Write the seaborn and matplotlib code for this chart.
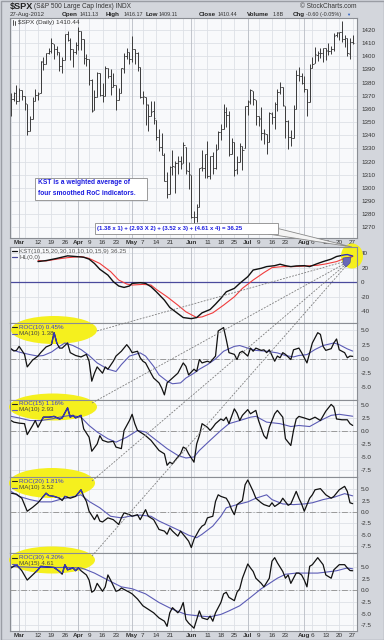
import matplotlib
matplotlib.use("Agg")
import matplotlib.pyplot as plt
from matplotlib.lines import Line2D
from matplotlib.patches import Ellipse, Polygon, Rectangle
from matplotlib.transforms import Affine2D
import seaborn as sns

sns.set_style("white")
plt.rcParams["font.family"] = ["Liberation Sans", "DejaVu Sans"]

# ─────────────────────────────────────────────
# DATA  (trading days 27-Feb-2012 .. 27-Aug-2012, index 0..127)
# ─────────────────────────────────────────────
opens = [1365.2, 1367.6, 1372.2, 1365.9, 1374.1, 1369.6, 1363.6, 1343.4, 1352.6, 1366.0,
         1370.8, 1371.9, 1395.9, 1394.2, 1402.6, 1404.2, 1409.6, 1405.5, 1402.9, 1392.8,
         1397.1, 1416.6, 1412.5, 1405.4, 1403.3, 1408.5, 1419.0, 1413.1, 1398.8, 1397.5,
         1382.2, 1359.0, 1368.8, 1387.6, 1370.3, 1369.6, 1390.8, 1385.1, 1377.0, 1378.5,
         1367.0, 1372.1, 1390.6, 1400.2, 1403.3, 1397.9, 1405.5, 1402.3, 1391.5, 1368.8,
         1369.2, 1363.2, 1354.6, 1358.1, 1351.9, 1338.4, 1330.8, 1324.8, 1305.1, 1295.7,
         1316.1, 1316.0, 1318.7, 1320.8, 1318.9, 1331.3, 1313.1, 1309.9, 1278.3, 1277.8,
         1285.6, 1316.1, 1315.0, 1325.7, 1309.4, 1324.0, 1314.9, 1329.2, 1342.4, 1344.8,
         1358.0, 1355.4, 1325.9, 1334.9, 1314.1, 1320.0, 1331.5, 1330.1, 1362.3, 1365.8,
         1373.7, 1367.1, 1354.7, 1353.0, 1341.4, 1341.3, 1334.8, 1356.5, 1353.7, 1363.6,
         1373.0, 1376.5, 1362.3, 1350.5, 1338.4, 1338.2, 1360.1, 1385.9, 1385.3, 1379.3,
         1375.1, 1365.5, 1391.0, 1394.5, 1401.2, 1402.3, 1402.6, 1405.9, 1404.4, 1404.0,
         1405.6, 1415.8, 1417.9, 1418.1, 1413.1, 1413.5, 1402.0, 1411.1]
highs = [1371.9, 1373.1, 1378.0, 1376.2, 1374.5, 1369.6, 1363.6, 1354.9, 1368.7, 1374.8,
         1373.0, 1396.1, 1399.4, 1402.6, 1405.9, 1414.0, 1409.6, 1407.8, 1402.9, 1399.2,
         1416.6, 1419.2, 1413.7, 1405.4, 1410.9, 1422.4, 1419.0, 1413.1, 1401.6, 1397.5,
         1383.0, 1374.7, 1388.1, 1387.6, 1379.7, 1392.8, 1390.8, 1390.1, 1387.4, 1378.5,
         1375.6, 1391.4, 1402.1, 1406.6, 1403.3, 1415.3, 1405.5, 1403.1, 1391.5, 1373.9,
         1369.2, 1363.7, 1365.9, 1365.7, 1351.9, 1344.9, 1341.8, 1326.4, 1312.2, 1316.4,
         1328.5, 1320.7, 1324.1, 1324.2, 1334.9, 1331.3, 1319.7, 1309.9, 1282.6, 1287.6,
         1315.1, 1329.1, 1325.8, 1335.5, 1324.3, 1327.3, 1333.7, 1343.3, 1348.2, 1363.5,
         1361.6, 1358.3, 1337.8, 1334.9, 1324.2, 1334.4, 1331.5, 1362.2, 1366.4, 1374.8,
         1373.9, 1367.1, 1354.9, 1361.5, 1345.0, 1341.3, 1357.7, 1357.3, 1365.4, 1375.3,
         1380.4, 1376.5, 1362.3, 1351.5, 1344.0, 1363.1, 1389.2, 1391.7, 1387.2, 1385.0,
         1375.1, 1394.2, 1399.6, 1407.1, 1404.1, 1406.0, 1406.0, 1405.9, 1410.0, 1407.7,
         1417.4, 1418.7, 1418.1, 1426.7, 1416.1, 1413.5, 1413.5, 1416.2]
lows = [1354.9, 1366.0, 1363.8, 1365.9, 1366.4, 1359.1, 1340.0, 1343.4, 1352.6, 1365.9,
        1366.7, 1371.9, 1389.7, 1394.2, 1401.5, 1402.4, 1397.7, 1400.6, 1388.7, 1386.9,
        1397.1, 1411.9, 1397.2, 1391.6, 1401.4, 1404.5, 1404.6, 1394.1, 1392.9, 1378.2,
        1357.4, 1359.0, 1368.8, 1369.9, 1365.4, 1369.6, 1383.3, 1370.3, 1377.0, 1358.8,
        1366.8, 1372.1, 1387.3, 1397.8, 1394.0, 1395.7, 1393.9, 1388.7, 1368.0, 1363.9,
        1347.8, 1343.1, 1354.6, 1348.9, 1336.6, 1328.4, 1324.8, 1304.9, 1292.0, 1295.7,
        1310.0, 1296.5, 1310.5, 1314.2, 1318.9, 1310.8, 1298.9, 1277.3, 1266.7, 1274.2,
        1285.6, 1312.7, 1307.8, 1307.7, 1306.6, 1310.5, 1314.1, 1329.2, 1336.4, 1344.8,
        1346.5, 1324.4, 1325.9, 1309.3, 1310.3, 1320.0, 1313.3, 1330.1, 1355.7, 1363.5,
        1363.0, 1348.0, 1346.7, 1336.3, 1333.2, 1325.4, 1334.8, 1348.5, 1345.1, 1358.6,
        1371.2, 1362.2, 1337.6, 1329.2, 1331.5, 1338.2, 1360.1, 1381.4, 1379.2, 1373.1,
        1354.7, 1365.5, 1391.0, 1394.5, 1396.6, 1398.8, 1395.6, 1397.3, 1400.6, 1401.6,
        1404.2, 1414.7, 1412.1, 1410.9, 1406.8, 1400.5, 1398.0, 1409.1]
closes = [1367.6, 1372.2, 1366.0, 1374.1, 1369.6, 1364.3, 1343.4, 1352.6, 1365.9, 1370.9,
          1371.1, 1396.0, 1394.3, 1402.6, 1404.2, 1409.8, 1405.5, 1402.9, 1392.8, 1397.1,
          1416.5, 1412.5, 1405.5, 1403.3, 1408.5, 1419.0, 1413.4, 1399.0, 1398.1, 1382.2,
          1358.6, 1368.7, 1387.6, 1370.3, 1369.6, 1390.8, 1385.1, 1376.9, 1378.5, 1366.9,
          1372.0, 1390.7, 1400.0, 1403.4, 1397.9, 1405.8, 1402.3, 1391.6, 1369.1, 1369.6,
          1363.7, 1354.6, 1358.0, 1353.4, 1338.4, 1330.7, 1324.8, 1304.9, 1295.2, 1316.0,
          1316.6, 1318.9, 1320.7, 1317.8, 1332.4, 1313.3, 1310.3, 1278.0, 1278.2, 1285.5,
          1315.1, 1315.0, 1325.7, 1308.9, 1324.2, 1314.9, 1329.1, 1342.8, 1344.8, 1358.0,
          1355.7, 1325.5, 1335.0, 1313.7, 1320.0, 1331.9, 1329.0, 1362.2, 1365.5, 1374.0,
          1367.6, 1354.7, 1352.5, 1341.5, 1341.5, 1334.8, 1356.8, 1353.6, 1363.7, 1372.8,
          1376.5, 1362.7, 1350.5, 1338.3, 1337.9, 1360.0, 1386.0, 1385.3, 1379.3, 1375.3,
          1365.0, 1391.0, 1394.2, 1401.4, 1402.2, 1402.8, 1405.9, 1404.1, 1403.9, 1405.5,
          1415.5, 1418.2, 1418.1, 1413.2, 1413.5, 1402.1, 1411.1, 1410.4]

# KST and its signal line
kst_idx = [10, 13, 17, 21, 24, 27, 29, 31, 33, 36, 38, 40, 42, 44, 45, 48, 50, 52, 54, 57,
           59, 62, 64, 67, 69, 71, 74, 76, 78, 80, 83, 85, 88, 90, 93, 95, 98, 100, 102, 104,
           106, 109, 111, 114, 116, 119, 121, 124, 125, 127]
kst_val = [28.6, 30, 33, 36.5, 35.6, 34.6, 32, 26, 18, 10, 1, -5, -7, -5, -1.4, -0.5, -1.4, -6, -13, -24.5,
           -34.6, -43, -48.5, -50, -48.5, -42, -37.4, -30, -22, -13, -8.3, -1.4, 7.8, 17, 19.4, 21.7, 23, 25, 23, 21.7,
           22.6, 23, 21.7, 26, 28.6, 32, 35.6, 37.9, 38.3, 36.25]
sig_idx = [10, 13, 17, 21, 26, 29, 33, 37, 40, 43, 45, 49, 52, 54, 58, 62, 65, 69, 71, 75,
           79, 83, 86, 90, 94, 97, 101, 105, 110, 114, 117, 121, 124, 127]
sig_val = [30, 29.5, 32, 34, 35.6, 33, 26, 14.8, 3.2, -2.3, -3.7, -2.8, -3.7, -9.7, -19.9, -31.4, -40.6, -48.5, -47.6, -42,
           -31.4, -19.9, -8.3, 3.2, 13.4, 20.3, 21.7, 21.7, 22.6, 23.6, 25.4, 28.6, 33, 35.6]

# ROC(10) and MA(10)
roc10_idx = [0, 1, 2, 3, 5, 6, 8, 10, 11, 13, 15, 16, 17, 18, 19, 21, 22, 24, 26, 28,
             29, 30, 31, 32, 34, 35, 36, 38, 39, 41, 43, 44, 45, 47, 48, 49, 50, 52, 53, 55,
             56, 57, 58, 60, 62, 64, 65, 66, 68, 69, 70, 71, 73, 74, 76, 77, 79, 80, 81, 83,
             84, 85, 86, 88, 89, 90, 91, 93, 94, 95, 96, 98, 99, 100, 101, 102, 104, 105, 107, 108,
             109, 110, 112, 114, 115, 116, 117, 119, 120, 121, 122, 124, 125, 126, 127]
roc10_val = [1.8, 1.4, 1.5, 2.2, 0.8, -1.4, -0.2, 0.5, 1.1, 2.1, 2.5, 4.6, 2.8, 1.9, 1.9, 2.8, 1.1, 0.6, 0.35, 0.8,
             -0.4, -3.9, -2.5, -1.4, -2.5, -1.4, -1.8, -0.4, 0.5, 1.35, 2.5, 1.9, 1.1, 1.35, 0.2, -0.4, -0.7, -2.5, -3.35, -4.2,
             -5.1, -6.3, -4.2, -3.35, -2.5, -0.7, -1.3, -2.8, -1.8, -2.2, -0.1, -0.7, -0.4, -0.6, 0.5, 4.9, 5.5, 3.4, 1.1, 0.8,
             -0.1, 1.1, 1.35, 0.5, 1.9, 1.35, 1.9, 1.5, 1.6, 1.1, 1.6, -0.4, 0.5, 0.2, 1.1, 0.8, -0.1, 1.6, 1.9, 1.1,
             0.2, -0.7, 2.8, 4.6, 4.3, 2.2, 1.5, 1.8, 2.8, 3.5, 1.6, 1.1, 0.2, 0.5, 0.45]
ma10_idx = [0, 3, 7, 10, 12, 15, 18, 20, 23, 26, 29, 32, 36, 39, 41, 44, 48, 50, 53, 55,
            58, 60, 63, 65, 68, 70, 73, 76, 79, 83, 85, 88, 91, 95, 99, 102, 105, 107, 110, 113,
            116, 120, 122, 125, 127]
ma10_val = [1.65, 1.2, 0.76, 0.5, 0.6, 1.2, 2.2, 2.8, 2.35, 1.65, 0.6, -0.7, -1.8, -2.2, -1.0, 0.5, 1.06, 0.5, -1.3, -2.8,
            -3.9, -4.35, -4.2, -3.35, -2.5, -1.8, -1.0, 0.0, 1.35, 2.2, 2.35, 1.9, 1.5, 1.35, 1.06, 0.6, 0.35, 0.6, 0.76, 1.65,
            2.35, 2.8, 2.5, 1.76, 1.38]

# ROC(15) and MA(10)
roc15_idx = [0, 1, 3, 5, 6, 8, 9, 10, 12, 14, 16, 18, 19, 21, 22, 23, 24, 26, 27, 29,
             30, 32, 33, 34, 36, 38, 39, 41, 42, 44, 45, 46, 47, 49, 50, 52, 54, 55, 57, 58,
             59, 60, 62, 63, 64, 65, 66, 68, 69, 70, 71, 73, 74, 75, 76, 78, 79, 80, 81, 83,
             84, 85, 86, 88, 89, 91, 92, 94, 95, 96, 98, 99, 100, 101, 102, 104, 105, 106, 107, 109,
             111, 113, 115, 117, 119, 120, 121, 123, 125, 126, 127]
roc15_val = [2.1, 1.8, 1.6, 1.5, -0.6, 1.15, 2.1, 0.8, 2.75, 2.75, 2.9, 2.4, 2.6, 4.55, 2.75, 3.1, 2.6, 3.1, 0.5, -1.1,
             -3.8, -2.4, -0.8, -1.7, -2.05, -1.9, -3.0, -3.3, 0.2, 2.1, 3.3, 1.5, 0.2, -0.45, -0.8, -1.7, -3.0, -3.65, -4.3, -6.5,
             -5.9, -6.2, -4.9, -4.3, -3.0, -3.3, -4.3, -5.9, -2.4, -0.8, 1.5, 0.8, 0.2, 0.8, 1.5, 2.4, 2.1, 2.75, 1.5, 4.35,
             3.5, 2.1, 3.1, 4.2, 3.4, 4.05, 2.1, -0.8, -1.4, 0.8, 3.4, 4.05, 3.4, 2.75, -1.4, -2.7, 0.2, 2.4, 2.9, 2.6,
             2.25, 2.75, 2.1, 3.9, 5.2, 4.7, 2.4, 2.25, 2.25, 1.5, 1.16]
ma15_idx = [0, 3, 7, 11, 15, 18, 22, 26, 29, 32, 36, 39, 43, 47, 50, 54, 58, 62, 65, 68,
            70, 74, 78, 81, 85, 89, 91, 95, 100, 104, 107, 111, 115, 119, 122, 127]
ma15_val = [2.9, 2.6, 2.1, 2.1, 2.4, 2.75, 3.1, 2.75, 1.15, -0.1, -1.4, -2.05, -1.1, 0.2, -0.1, -1.7, -3.3, -4.6, -5.1, -4.9,
            -3.65, -1.7, 0.2, 1.5, 2.1, 2.75, 2.9, 1.8, 1.5, 0.95, 1.15, 0.95, 2.1, 3.1, 3.3, 2.93]

# ROC(20) and MA(10)
roc20_idx = [0, 2, 4, 6, 8, 10, 11, 13, 14, 16, 18, 19, 20, 22, 24, 26, 27, 28, 29, 31,
             32, 33, 34, 36, 38, 40, 41, 42, 44, 45, 47, 48, 50, 51, 53, 54, 55, 57, 58, 59,
             60, 62, 63, 65, 66, 67, 68, 70, 71, 72, 73, 75, 76, 77, 78, 80, 81, 82, 83, 84,
             86, 87, 88, 90, 91, 93, 94, 96, 97, 98, 100, 101, 103, 104, 106, 107, 108, 109, 111, 112,
             113, 115, 117, 119, 120, 122, 124, 125, 126, 127]
roc20_val = [4.1, 3.9, 3.0, 0.15, 1.0, 2.0, 2.7, 4.1, 3.6, 3.4, 3.0, 2.5, 3.4, 3.0, 3.4, 4.85, 3.4, 2.3, 0.15, -1.7,
             -0.6, -2.0, -2.2, -1.3, -1.7, -2.75, -1.3, -0.2, -0.6, -0.95, -0.6, -1.7, 0.5, -0.95, -1.7, -2.75, -3.85, -4.2, -4.9, -3.5,
             -4.2, -5.3, -4.2, -5.65, -6.4, -7.8, -6.0, -3.85, -3.1, -2.75, -1.3, -0.95, 2.3, 3.75, 3.4, 3.0, 2.0, 0.5, -0.6, 1.6,
             2.5, 5.95, 7.0, 4.5, 3.0, 2.0, 1.6, 1.2, 2.0, 1.2, 2.0, 3.0, 1.45, 1.75, 4.5, 3.0, 1.75, 0.15, 3.0, 3.75,
             4.85, 5.1, 3.75, 3.0, 3.4, 4.85, 5.6, 4.5, 2.0, 1.81]
ma20_idx = [0, 3, 7, 11, 15, 18, 22, 26, 29, 33, 37, 41, 44, 48, 52, 55, 59, 63, 66, 69,
            71, 75, 78, 80, 84, 88, 91, 95, 97, 101, 105, 109, 112, 116, 120, 124, 127]
ma20_val = [4.5, 3.4, 2.7, 2.2, 2.2, 2.7, 3.2, 3.75, 2.3, 0.9, -0.95, -1.3, -0.95, -0.7, -0.95, -2.0, -3.1, -4.2, -5.1, -5.65,
            -4.9, -3.1, -0.95, 0.9, 1.6, 2.2, 3.0, 3.75, 2.7, 1.75, 1.6, 1.75, 2.0, 2.7, 3.2, 4.0, 3.52]

# ROC(30) and MA(15)
roc30_idx = [0, 2, 4, 6, 8, 10, 11, 16, 18, 19, 20, 21, 23, 24, 25, 26, 28, 29, 30, 31,
             32, 34, 35, 36, 37, 39, 40, 41, 42, 44, 45, 47, 49, 51, 53, 55, 57, 58, 59, 60,
             62, 63, 64, 65, 66, 68, 69, 70, 71, 73, 74, 75, 76, 78, 79, 80, 81, 83, 84, 85,
             86, 88, 89, 90, 91, 93, 94, 96, 97, 98, 99, 101, 102, 103, 104, 106, 107, 108, 109, 110,
             111, 112, 114, 115, 116, 117, 119, 120, 122, 124, 125, 126, 127]
roc30_val = [4.8, 5.5, 4.2, 2.2, 3.3, 4.4, 5.15, 4.9, 4.05, 3.45, 5.5, 4.4, 4.8, 4.2, 4.8, 4.2, 3.3, 2.2, -0.4, 0.0,
             1.5, -0.2, 0.75, 3.3, 2.2, -0.2, 0.0, 0.5, 0.2, -0.4, -0.75, -1.85, -3.3, -4.05, -4.8, -5.9, -6.6, -7.7, -4.8, -3.7,
             -4.8, -4.05, -2.6, -6.25, -7.0, -8.1, -6.25, -4.4, -5.9, -6.25, -5.5, -6.6, -4.8, -2.6, -0.75, -0.4, -1.5, -2.2, -0.4, 0.35,
             2.6, 5.65, 4.8, 4.05, 2.6, 1.5, 0.75, 2.6, 6.25, 7.0, 5.9, 4.05, 2.6, 3.3, 1.5, 3.7, 3.7, 3.3, 2.2, 0.75,
             5.15, 5.5, 7.0, 6.25, 5.5, 3.3, 2.6, 4.4, 5.5, 5.5, 4.8, 4.25, 4.2]
ma30_idx = [0, 5, 10, 15, 21, 26, 28, 31, 36, 41, 45, 50, 55, 60, 65, 70, 74, 78, 81, 85,
            89, 93, 95, 99, 102, 106, 110, 114, 117, 121, 125, 127]
ma30_val = [5.1, 5.0, 4.9, 4.9, 4.9, 4.8, 4.4, 3.7, 2.2, 0.75, 0.35, -0.75, -2.6, -4.05, -5.15, -5.5, -5.65, -5.15, -4.4, -3.3,
            -1.5, 0.35, 1.1, 2.6, 3.45, 3.7, 3.7, 3.7, 3.9, 4.2, 4.8, 4.61]

# date axis
label_pos = [3, 10, 15, 20, 25, 29, 34, 39, 45, 49, 54, 59, 67, 73, 78, 83, 88, 92, 97, 102,
             109, 112, 117, 122, 127]
label_txt = ["Mar", "12", "19", "26", "Apr", "9", "16", "23", "May", "7", "14", "21", "Jun", "11", "18", "25",
             "Jul", "9", "16", "23", "Aug", "6", "13", "20", "27"]
mondays = [0, 5, 10, 15, 20, 25, 29, 34, 39, 44, 49, 54, 59, 64, 68, 73, 78, 83, 88, 92,
           97, 102, 107, 112, 117, 122, 127]
month_starts = [3, 25, 45, 67, 88, 109]
MONTHS = {"Mar", "Apr", "May", "Jun", "Jul", "Aug"}

# ─────────────────────────────────────────────
# STYLE / LAYOUT  (pixel units on a 384x640 canvas)
# ─────────────────────────────────────────────
W, H = 384, 640
BG = "#d3d6dc"
FACE = "#f8f9fb"
GRID = "#dde0e6"
GRID_M = "#b9bdc5"
EDGE = "#8a8d93"
TXT = "#333333"
BLUE_T = "#1c1ce0"
YEL = "#f5f01e"
MA_C = "#5b5bb5"
X0, X1 = 10, 357
XMIN, XMAX = -0.4, 128.6

fig = plt.figure(figsize=(W / 100, H / 100), dpi=100, facecolor=BG)
pix = Affine2D().scale(1 / W, -1 / H).translate(0, 1) + fig.transFigure


def panel(top, bottom, yticks, ylabels):
    ax = fig.add_axes([X0 / W, 1 - bottom / H, (X1 - X0) / W, (bottom - top) / H])
    ax.set_facecolor(FACE)
    for m in mondays:
        ax.axvline(m, color=GRID, lw=0.6, zorder=0.5)
    for m in month_starts:
        ax.axvline(m, color=GRID_M, lw=0.6, zorder=0.6)
    for t in yticks:
        ax.axhline(t, color=GRID, lw=0.6, zorder=0.5)
    ax.yaxis.tick_right()
    ax.set_yticks(yticks)
    ax.set_yticklabels(ylabels)
    ax.tick_params(axis="y", length=0, pad=3, labelsize=4.5, labelcolor=TXT)
    ax.set_xticks([])
    for s in ax.spines.values():
        s.set_color(EDGE)
        s.set_linewidth(0.8)
    return ax


def date_labels(ax, pad):
    ax.set_xticks(label_pos)
    ax.set_xticklabels(label_txt)
    ax.tick_params(axis="x", length=0, labelbottom=True, pad=pad, labelsize=4.6, labelcolor=TXT)
    for t in ax.get_xticklabels():
        if t.get_text() in MONTHS:
            t.set_fontweight("bold")


def draw(ax, xs, ys, color, lw, z=2.0):
    sns.lineplot(x=xs, y=ys, ax=ax, color=color, linewidth=lw, zorder=z, estimator=None)
    ax.set_xlabel("")
    ax.set_ylabel("")
    return ax.lines[-1]


def ftext(x, y, s, **kw):
    kw.setdefault("va", "center")
    kw.setdefault("color", TXT)
    fig.text(x / W, 1 - y / H, s, **kw)


def fline(xs, ys, **kw):
    fig.add_artist(Line2D(xs, ys, transform=pix, **kw))


# ── price panel ──────────────────────────────
main = panel(18, 238, list(range(1270, 1421, 10)), [str(v) for v in range(1270, 1421, 10)])
idx = list(range(len(closes)))
main.vlines(idx, lows, highs, color="#3a3a3a", lw=0.7, zorder=2)
main.hlines(opens, [i - 0.5 for i in idx], idx, color="#3a3a3a", lw=0.6, zorder=2)
main.hlines(closes, idx, [i + 0.5 for i in idx], color="#3a3a3a", lw=0.6, zorder=2)
main.set_ylim(1262, 1429)
date_labels(main, 1.2)

# ── KST panel ────────────────────────────────
kst = panel(247, 323, [40, 20, 0, -20, -40], ["40", "20", "0", "-20", "-40"])
kst.axhline(0, color="#4a4a9c", lw=0.9, zorder=1)
draw(kst, sig_idx, sig_val, "#f03c3c", 0.8)
draw(kst, kst_idx, kst_val, "#111111", 1.0, 2.2)
circ = Ellipse((352, 256), 22, 25, transform=pix, facecolor=YEL, edgecolor="none",
               zorder=2.5, clip_on=False)
kst.add_patch(circ)
draw(kst, sig_idx, sig_val, "#f03c3c", 0.8, 2.6).set_clip_path(circ)
draw(kst, kst_idx, kst_val, "#3030c0", 1.0, 2.7).set_clip_path(circ)
kst.set_ylim(-56, 48.7)

# ── ROC panels ───────────────────────────────
roc_layout = [
    # top, bottom, ylim, yticks, ellipse (cx, cy, w, h), legend y
    (323, 400, (-7.2, 6.3), [5, 2.5, 0, -2.5, -5], (54, 330, 86, 28), 327),
    (400, 477, (-8.75, 6.05), [5, 2.5, 0, -2.5, -5, -7.5], (53, 407, 88, 27), 403.5),
    (477, 553, (-9.0, 7.65), [5, 2.5, 0, -2.5, -5, -7.5], (52, 483, 86, 30), 481),
    (553, 631, (-8.7, 8.0), [5, 2.5, 0, -2.5, -5, -7.5], (52, 560, 86, 27), 557.5),
]
roc_series = [
    (roc10_idx, roc10_val, ma10_idx, ma10_val, "ROC(10) 0.45%", "MA(10) 1.38"),
    (roc15_idx, roc15_val, ma15_idx, ma15_val, "ROC(15) 1.16%", "MA(10) 2.93"),
    (roc20_idx, roc20_val, ma20_idx, ma20_val, "ROC(20) 1.81%", "MA(10) 3.52"),
    (roc30_idx, roc30_val, ma30_idx, ma30_val, "ROC(30) 4.20%", "MA(15) 4.61"),
]
roc_axes = []
for (top, bot, ylim, ticks, ell, ly), (rx, ry, mx, my, rlab, mlab) in zip(roc_layout, roc_series):
    ax = panel(top, bot, ticks, [f"{t:.1f}" for t in ticks])
    ax.axhline(0, color="#9a9a9a", lw=0.7, ls=(0, (6, 2, 1, 2)), zorder=1)
    e = Ellipse(ell[:2], ell[2], ell[3], transform=pix, facecolor=YEL, edgecolor="none",
                zorder=1.5, clip_on=False)
    ax.add_patch(e)
    draw(ax, mx, my, MA_C, 0.8, 2.0)
    draw(ax, rx, ry, "#111111", 0.9, 2.2)
    draw(ax, rx, ry, "#3434c8", 0.9, 2.3).set_clip_path(e)
    ax.set_ylim(*ylim)
    roc_axes.append(ax)
    # legend
    fline([12, 17], [ly, ly], color="#222222", lw=0.8, zorder=5)
    ftext(19, ly, rlab, color="#3a3ad0", fontsize=4.5, zorder=5)
    fline([12, 17], [ly + 6.5, ly + 6.5], color=MA_C, lw=0.8, zorder=5)
    ftext(19, ly + 6.5, mlab, color="#444444", fontsize=4.5, zorder=5)

date_labels(roc_axes[-1], 1.6)

for ax in [main, kst] + roc_axes:
    ax.set_xlim(XMIN, XMAX)

# ─────────────────────────────────────────────
# HEADER, LEGENDS, ANNOTATIONS
# ─────────────────────────────────────────────
ftext(10, 6.5, r"\$SPX", fontsize=6.6, fontweight="bold", color="#222222")
ftext(33.5, 6.5, "(S&P 500 Large Cap Index) INDX", fontsize=4.7)
ftext(357, 6.5, "© StockCharts.com", fontsize=4.7, ha="right")
ftext(10, 14.8, "27-Aug-2012", fontsize=4.3)
header = [(62, "Open", True), (80, "1411.13", False), (106, "High", True), (124, "1416.17", False),
          (146, "Low", True), (159, "1409.11", False), (199, "Close", True), (218, "1410.44", False),
          (247, "Volume", True), (273, "1.8B", False), (293, "Chg", True), (306, "-0.60 (-0.05%)", False)]
for x, s, b in header:
    ftext(x, 14.8, s, fontsize=4.5 if b else 3.9, fontweight="bold" if b else "normal",
          color="#222222" if b else TXT)
ftext(346, 15.2, "▼", fontsize=3.0, color="#2c5fc0")

# price legend
fline([12.5, 12.5], [20, 24.5], color="#333333", lw=0.6, zorder=5)
fline([15, 15], [20.5, 25], color="#333333", lw=0.6, zorder=5)
ftext(18, 22.5, r"\$SPX (Daily) 1410.44", fontsize=4.6)

# KST legend
fline([12, 17], [251, 251], color="#111111", lw=0.9, zorder=5)
ftext(19, 251, "KST(10,15,20,30,10,10,10,15,9) 36.25", fontsize=4.5, color="#555555")
fline([12, 17], [257, 257], color="#4a4a9c", lw=0.9, zorder=5)
ftext(19, 257, "HL(0,0)", fontsize=4.5, color="#555555")

# explanatory boxes
fig.add_artist(Rectangle((35, 178), 112, 22, transform=pix, facecolor="white",
                         edgecolor="#8a8a8a", lw=0.6, zorder=3))
ftext(38, 183, "KST is a weighted average of", fontsize=4.8, fontweight="bold",
      color=BLUE_T, zorder=4)
ftext(38, 193.5, "four smoothed RoC indicators.", fontsize=4.8, fontweight="bold",
      color=BLUE_T, zorder=4)

fig.add_artist(Polygon([(268, 234), (278, 228.5), (352, 247)], closed=True, transform=pix,
                       facecolor="#f4f4f4", edgecolor="#8a8a8a", lw=0.6, zorder=3))
fig.add_artist(Rectangle((95, 223), 183, 11, transform=pix, facecolor="white",
                         edgecolor="#8a8a8a", lw=0.6, zorder=3.1))
ftext(97, 228.7, "(1.38 x 1) + (2.93 X 2) + (3.52 x 3) + (4.61 x 4) = 36.25", fontsize=4.35,
      fontweight="bold", color=BLUE_T, zorder=4)

# dashed leaders from each RoC legend to the KST value
for (sx, sy), (tx, ty) in [((97, 331), (343, 262)), ((92, 403), (344, 264)),
                           ((92, 481), (345, 265)), ((92, 556), (346, 266))]:
    fline([sx, tx], [sy, ty], color="#7c7c7c", lw=0.6, ls=(0, (2.2, 1.6)), zorder=2)
fig.add_artist(Polygon([(343, 258), (351, 257), (350, 263), (346, 267), (343, 264)], closed=True,
                       transform=pix, facecolor="#6868b8", edgecolor="#4a4a90", lw=0.4, zorder=2.5))

# outer frame
fig.add_artist(Rectangle((0.5, 0.5), W - 1, H - 1, transform=pix, fill=False,
                         edgecolor="#9a9da4", lw=1.0, zorder=6))

fig.savefig("out.png", dpi=100, facecolor=BG)
